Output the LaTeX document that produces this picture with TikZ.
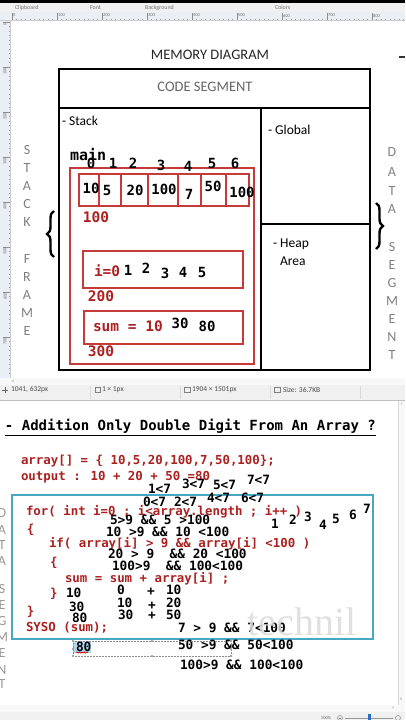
\documentclass[tikz,border=0pt]{standalone}
\usepackage{fontspec}
\setmainfont{Carlito}
\newfontfamily\mono{DejaVu Sans Mono}
\newfontfamily\wmfont{Liberation Serif}
\usetikzlibrary{decorations.pathreplacing,decorations.pathmorphing}
\definecolor{cred}{RGB}{172,32,32}
\definecolor{bred}{RGB}{198,58,58}
\definecolor{ccyan}{RGB}{72,168,196}
\definecolor{lgray}{RGB}{128,128,128}
\definecolor{uibg}{RGB}{240,240,240}
\definecolor{rulerbg}{RGB}{234,239,246}
\definecolor{selblue}{RGB}{176,214,240}
\definecolor{knob}{RGB}{40,110,200}
\begin{document}
\begin{tikzpicture}[x=1pt,y=-1pt,
  every node/.style={inner sep=0pt, outer sep=0pt},
  blk/.style={draw=black, line width=2pt},
  rbox/.style={draw=bred, line width=1.6pt},
  seglbl/.style={font=\fontsize{14.5}{16}\selectfont},
  areatxt/.style={font=\fontsize{13.5}{15}\selectfont, anchor=west, text height=9pt, text depth=0pt},
  vlet/.style={font=\fontsize{14}{15}\selectfont, text=lgray, text height=9pt, text depth=0pt},
  monob/.style={font=\mono\bfseries\fontsize{14}{16}\selectfont, text height=10.2pt, text depth=0pt},
  redlbl/.style={font=\mono\bfseries\fontsize{14.5}{16}\selectfont, text=cred, text height=10.6pt, text depth=0pt},
  code/.style={font=\mono\bfseries\fontsize{12.4}{14}\selectfont, text=cred, anchor=west, text height=9pt, text depth=0pt},
  ann/.style={font=\mono\bfseries\fontsize{12.8}{14}\selectfont, anchor=west, text height=9.3pt, text depth=0pt},
  annc/.style={ann, anchor=center},
  ui/.style={font=\fontsize{7.5}{8}\selectfont, text=black!70, anchor=west},
  rnum/.style={font=\fontsize{4.5}{5}\selectfont, text=black!55},
  bracestyle/.style={black, line width=2.4pt, decorate, decoration={brace, amplitude=7pt}}
]
\useasboundingbox (0,0) rectangle (405,720);
\fill[white] (0,0) rectangle (405,720);

% ---------- window chrome (top) ----------
\fill[black] (0,0) rectangle (405,3);
\fill[uibg] (0,3) rectangle (405,12);
\node[ui, text=black!55, font=\fontsize{6}{6}\selectfont] (rb1) at (15,7.5) {Clipboard};
\node[ui, text=black!55, font=\fontsize{6}{6}\selectfont] (rb2) at (90,7.5) {Font};
\node[ui, text=black!55, font=\fontsize{6}{6}\selectfont] (rb3) at (145,7.5) {Background};
\node[ui, text=black!55, font=\fontsize{6}{6}\selectfont] (rb4) at (275,7.5) {Colors};
\fill[rulerbg] (0,12) rectangle (405,20);
\fill[rulerbg] (0,20) rectangle (10,378);
\draw[black!20, line width=0.4pt] (0,20) -- (405,20);
\draw[black!20, line width=0.4pt] (10,20) -- (10,378);
\foreach \k in {0,...,87} \draw[black!40, line width=0.3pt] ({12+4.5*\k},20) -- ({12+4.5*\k},18.6);
\foreach \k in {0,...,78} \draw[black!40, line width=0.3pt] (10,{22+4.5*\k}) -- (8.6,{22+4.5*\k});
\foreach \k/\lab in {0/0,1/100,2/200,3/300,4/400,5/500,6/600,7/700,8/800} {
  \draw[black!45, line width=0.3pt] ({12+45*\k},20) -- ({12+45*\k},13);
  \node[rnum, anchor=west] (tr\k) at ({13+45*\k},15.5) {\lab};
}
\foreach \k/\lab in {0/0,1/100,2/200,3/300,4/400,5/500,6/600,7/700} {
  \draw[black!45, line width=0.3pt] (10,{22+45*\k}) -- (3,{22+45*\k});
  \node[rnum, rotate=90, anchor=east] (lr\k) at (5,{23+45*\k}) {\lab};
}
\draw[black!80, line width=1.2pt] (399,57) -- (405,57);

% ---------- memory diagram ----------
\node[seglbl, text=black!85] (mdtitle) at (210,55) {MEMORY DIAGRAM};
\draw[blk] (59,69) rectangle (370,370);
\draw[blk] (59,108) -- (370,108);
\draw[blk] (261,108) -- (261,370);
\draw[blk] (261,224) -- (370,224);
\node[seglbl, text=black!60] (codeseg) at (205,87) {CODE SEGMENT};
\node[areatxt] (stk) at (62,121) {- Stack};
\node[areatxt] (glb) at (268,130) {- Global};
\node[areatxt] (heap) at (273,243) {- Heap};
\node[areatxt] (area) at (280,261) {Area};

% stack frame contents
\node[monob, anchor=west, font=\mono\bfseries\fontsize{15}{16}\selectfont] (mainlbl) at (70,155) {main};
\draw[rbox] (70,168) rectangle (254,364);
\foreach \a/\b [count=\c] in {79/99,99/121,121/148,148/178,178/201,201/226,226/249}
  \draw[rbox, line width=1.4pt] (\a,174) rectangle (\b,206);
\foreach \i/\x/\y in {0/91/163,1/113/163,2/133/163,3/161/165,4/188/166,5/212/163,6/235/163}
  \node[monob] (idx\i) at (\x,\y) {\i};
\foreach \v/\x/\y [count=\c] in {10/91/188,5/107/190,20/135/190,100/164/189,7/189/194,50/213/186,100/242/192}
  \node[monob] (val\c) at (\x,\y) {\v};
\node[redlbl] (addr1) at (96,217) {100};
\draw[rbox] (83,251) rectangle (243,288);
\node[redlbl, anchor=west] (ivar) at (94,271) {i=0};
\foreach \v/\x/\y in {1/128/270,2/146/268,3/165/273,4/183/272,5/202/272}
  \node[monob] (iv\v) at (\x,\y) {\v};
\node[redlbl] (addr2) at (101,296) {200};
\draw[rbox] (84,311) rectangle (243,344);
\node[redlbl, anchor=west] (svar) at (93,326) {sum = 10};
\node[monob] (s30) at (180,323) {30};
\node[monob] (s80) at (207,326) {80};
\node[redlbl] (addr3) at (101,351) {300};

% braces
\draw[bracestyle] (54,257) -- (54,211);
\draw[bracestyle] (376,203) -- (376,249);

% vertical labels
\foreach \l/\y [count=\c] in {S/150,T/168,A/186,C/204,K/222,F/259,R/277,A/295,M/313,E/331}
  \node[vlet] (sf\c) at (27,\y) {\l};
\foreach \l/\y [count=\c] in {D/152,A/172,T/191,A/209,S/247,E/265,G/283,M/301,E/319,N/337,T/355}
  \node[vlet] (ds\c) at (392,\y) {\l};

% ---------- status bar ----------
\fill[uibg!50] (0,378) rectangle (405,385);
\node[font=\fontsize{6}{6}\selectfont, text=black!40] (lt) at (13,382) {<};
\fill[uibg] (0,385) rectangle (405,400);
\foreach \x in {90,180,270,360} \draw[black!15, line width=0.4pt] (\x,386) -- (\x,399);
\draw[black!60, line width=0.4pt] (2,390) -- (8,390) (5,387) -- (5,393);
\draw[black!50, line width=0.4pt] (95,387.5) rectangle (100,392.5);
\draw[black!50, line width=0.4pt] (184,387.5) rectangle (190,392.5);
\draw[black!50, line width=0.4pt] (274,387.5) rectangle (280,392.5);
\node[ui] (st1) at (11,390) {1041, 632px};
\node[ui] (st2) at (102,390) {1 × 1px};
\node[ui] (st3) at (192,390) {1904 × 1501px};
\node[ui] (st4) at (283,390) {Size: 36.7KB};
\draw[black!25, line width=0.5pt] (0,400) -- (405,400);

% ---------- lower pane ----------
\fill[uibg!50] (398,401) rectangle (405,705);
\draw[black!15, line width=0.4pt] (398,401) -- (398,705);
\node[font=\fontsize{5}{5}\selectfont, text=black!40] (up) at (401.5,405) {\^{}};

\node[font=\mono\bfseries\fontsize{14}{16}\selectfont, anchor=west, text height=10pt, text depth=0pt] (qtitle) at (5,425) {- Addition Only Double Digit From An Array ?};
\draw[black, line width=1pt] ([yshift=-5pt]qtitle.south west) -- ([yshift=-5pt]qtitle.south east);

\node[code] (c1) at (21,460) {array[] = \{ 10,5,20,100,7,50,100\};};
\node[code] (c2) at (21,476) {output : 10 + 20 + 50 =80};

\draw[ccyan, line width=1.8pt] (12,495) rectangle (373,639);

\node[code] (c3) at (26,511) {for( int i=0 ; i<array.length ; i++ )};
\node[code] (c4) at (27,529) {\{};
\node[code] (c5) at (49,543) {if( array[i] > 9 \&\& array[i] <100 )};
\node[code] (c6) at (50,562) {\{};
\node[code] (c7) at (65,578) {sum = sum + array[i] ;};
\node[code] (c8) at (50,593) {\}};
\node[code] (c9) at (27,611) {\}};
\node[code] (c10) at (26,627) {SYSO (sum);};

% annotations
\node[ann] (a1) at (148,489) {1<7};
\node[ann] (a2) at (182,484) {3<7};
\node[ann] (a3) at (213,485) {5<7};
\node[ann] (a4) at (247,480) {7<7};
\node[ann] (a5) at (143,502) {0<7};
\node[ann] (a6) at (174,502) {2<7};
\node[ann] (a7) at (207,498) {4<7};
\node[ann] (a8) at (241,498) {6<7};
\foreach \v/\x/\y in {1/275/524,2/293/520,3/308/517,4/323/525,5/336/519,6/353/515,7/367/509}
  \node[annc] (ln\v) at (\x,\y) {\v};
\node[ann] (b1) at (110,520) {5>9 \&\& 5 >100};
\node[ann] (b2) at (106,532) {10 >9 \&\& 10 <100};
\node[ann] (b3) at (108,554) {20 > 9~ \&\& 20 <100};
\node[ann] (b4) at (112,566) {100>9~ \&\& 100<100};
\node[ann] (d1) at (66,593) {10};
\node[ann] (d2) at (117,590) {0};
\node[annc] (d3) at (151,591) {+};
\node[ann] (d4) at (166,590) {10};
\node[ann] (e1) at (69,607) {30};
\node[ann] (e2) at (117,603) {10};
\node[annc] (e3) at (152,605) {+};
\node[ann] (e4) at (166,603) {20};
\node[ann] (f1) at (72,618) {80};
\node[ann] (f2) at (118,615) {30};
\node[annc] (f3) at (152,615) {+};
\node[ann] (f4) at (166,615) {50};
\node[ann] (g1) at (178,628) {7 > 9 \&\& 7<100};
\node[font=\wmfont\fontsize{40}{40}\selectfont, text=black!14, opacity=0.85] (wm) at (302,622) {technil};
\node[ann] (g2) at (178,645) {50 >9 \&\& 50<100};
\node[ann] (g3) at (180,665) {100>9 \&\& 100<100};

% selected "80"
\fill[selblue] (73,641) rectangle (91,653);
\draw[black!45, densely dotted, line width=0.5pt] (73,641) rectangle (231,656);
\foreach \x/\y in {73/641,152/641,231/641,73/656,152/656,231/656,73/648.5,231/648.5}
  \fill[black!35] (\x-1,\y-1) rectangle (\x+1,\y+1);
\node[ann] (sel80) at (76,647) {80};
\draw[red!80!black, line width=0.6pt, decorate, decoration={snake, amplitude=0.6pt, segment length=2.5pt}] (76,652.5) -- (88,652.5);

% half-visible vertical labels on the left
\foreach \l/\y [count=\c] in {D/513,A/530,T/545,A/561,S/589,E/605,G/621,M/637,E/653,N/670,T/684}
  \node[vlet, text=black!40] (lv\c) at (2,\y) {\l};

% ---------- bottom chrome ----------
\fill[uibg!50] (0,705) rectangle (405,712);
\fill[uibg] (0,712) rectangle (405,720);
\node[font=\fontsize{5}{5}\selectfont, text=black!40] (rt) at (393,708) {>};
\node[font=\fontsize{5}{5}\selectfont, text=black!40] (dn) at (401,699) {v};
\node[font=\fontsize{4.5}{5}\selectfont, text=black!60] (zm) at (326,718) {100\%};
\draw[black!55, line width=0.4pt] (340,718) circle (2.5);
\draw[black!55, line width=0.4pt] (338.8,718) -- (341.2,718);
\draw[black!40, line width=0.5pt] (345,718) -- (393,718);
\fill[knob] (368,714) rectangle (371,720);
\draw[black!55, line width=0.4pt] (398,718) circle (2.5);
\end{tikzpicture}
\end{document}
